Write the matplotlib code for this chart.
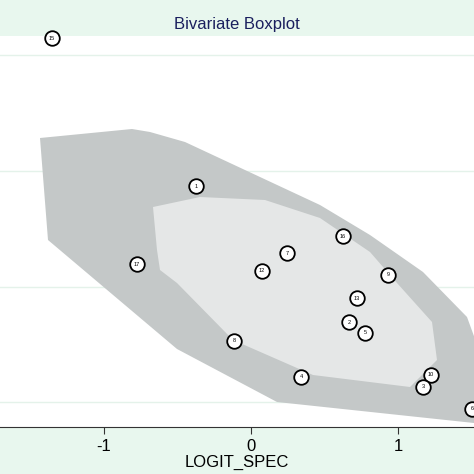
import matplotlib
matplotlib.use("Agg")
import matplotlib.pyplot as plt
from matplotlib.patches import Rectangle, Polygon
import numpy as np

plt.rcParams['font.family'] = ['Liberation Sans', 'DejaVu Sans']

W = 474
def px2x(p): return (p - 251) / 147.0
def py2y(p): return (402 - p) / 116.0

labels = ["15","1","16","7","17","12","9","13","2","5","8","4","10","3","6"]
logit_spec = [px2x(v) for v in [52,196,343,287,137,262,388,357,349,365,234,301,431,423,472]]
logit_sens = [py2y(v) for v in [38,186,236,253,264,271,275,298,322,333,341,377,375,387,409]]

outer_px = [(40,138),(132,129),(150,132),(185,142),(320,205),(370,235),(423,272),(467,317),
            (490,380),(490,430),(474,423),(277,402),(177,349),(48,240)]
inner_px = [(153,207),(200,197),(265,200),(320,218),(370,252),(397,283),(432,322),(437,360),
            (410,387),(313,375),(233,340),(177,283),(160,270),(157,250)]
outer = [(px2x(a), py2y(b)) for a, b in outer_px]
inner = [(px2x(a), py2y(b)) for a, b in inner_px]

fig = plt.figure(figsize=(4.74, 4.74), dpi=100)
mint = "#e8f7ee"
fig.patches.append(Rectangle((0, 1-36/W), 1, 36/W, transform=fig.transFigure, color=mint, zorder=-5))
fig.patches.append(Rectangle((0, 0), 1, 1-427/W, transform=fig.transFigure, color=mint, zorder=-5))
fig.text(0.5, 1-24/W, "Bivariate Boxplot", ha="center", va="center", fontsize=12, color="#1a1f5e")

ax = fig.add_axes([0, 1-427/W, 1, (427-36)/W])
ax.set_zorder(1)
ax.set_xlim(px2x(0), px2x(W))
ax.set_ylim(py2y(427), py2y(36))
ax.add_patch(Polygon(outer, closed=True, facecolor="#c4c8c8", edgecolor="none", zorder=1))
ax.add_patch(Polygon(inner, closed=True, facecolor="#e5e7e7", edgecolor="none", zorder=2))
for yv in [py2y(p) for p in [55,171,287,402]]:
    ax.axhline(yv, color="#e4f2ea", lw=1, zorder=0.5)
ax.scatter(logit_spec, logit_sens, s=110, facecolor="white", edgecolor="black", linewidth=1.3, zorder=3, clip_on=False)
for l, x, y in zip(labels, logit_spec, logit_sens):
    ax.text(x, y, l, ha="center", va="center", fontsize=4, zorder=4, clip_on=False)
for s in ["top", "right", "left"]:
    ax.spines[s].set_visible(False)
ax.spines["bottom"].set_color("#333333")
ax.set_xticks([-1, 0, 1])
ax.set_xticklabels(["-1", "0", "1"], fontsize=12)
ax.tick_params(axis="x", length=5, color="#333333")
ax.set_yticks([])
ax.set_xlabel("LOGIT_SPEC", fontsize=12, labelpad=1)
fig.savefig("out.png", dpi=100)
